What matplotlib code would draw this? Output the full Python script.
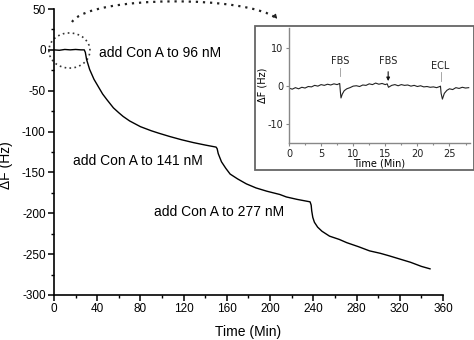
import matplotlib
matplotlib.use("Agg")
import matplotlib.pyplot as plt
from matplotlib.patches import Ellipse, Rectangle, PathPatch
from matplotlib.path import Path
from matplotlib.ticker import MultipleLocator

plt.rcParams["font.family"] = ["Liberation Sans", "DejaVu Sans"]
plt.rcParams["axes.unicode_minus"] = False

# frequency shift over the full run (min, Hz)
time_min = [0, 5, 10, 15, 20, 25, 28, 29, 30.2, 33, 37, 41, 45, 49, 55, 60,
            64, 70, 80, 90, 97, 107, 118, 129, 140, 150, 151, 152, 155, 159,
            163, 170, 178, 187, 197, 209, 215, 225, 237, 238, 238.5, 239.5,
            241, 244, 248, 255, 264, 271, 282, 292, 302, 310, 320, 330, 340,
            348]
delta_f = [0, -0.5, 0.5, 0, 0.5, 0, 0, -3, -12, -24, -36, -45, -54, -61, -71,
           -77, -81.5, -87, -94, -99, -102, -106, -110, -113.5, -116.5, -119,
           -121, -127, -137, -145, -152, -158, -164, -169, -173, -177, -180,
           -183, -186, -190, -197, -205, -211, -217, -222, -228, -232, -236,
           -241, -246, -249, -252, -256, -260, -265, -268]

# control run with serum / ECL additions (min, Hz)
ctrl_time = [0, 0.5, 1, 1.5, 2, 2.5, 3, 3.5, 4, 4.5, 5, 5.5, 6, 6.5, 7, 7.5,
             7.9, 8.0, 8.1, 8.3, 8.6, 9, 9.5, 10, 10.5, 11, 11.5, 12, 12.5, 13,
             13.5, 14, 14.5, 15, 15.3, 15.5, 15.7, 16, 16.5, 17, 17.5, 18,
             18.5, 19, 19.5, 20, 20.5, 21, 21.5, 22, 22.5, 23, 23.5, 23.6,
             23.7, 23.9, 24.2, 24.6, 25, 25.5, 26, 26.5, 27, 27.5, 28]
ctrl_df = [-0.6, -0.9, -0.5, -0.8, -0.4, -0.6, -0.2, -0.3, 0.1, -0.1, 0.3, 0.1,
           0.4, 0.2, 0.5, 0.3, 0.6, -1.5, -3.2, -2.2, -1.3, -0.8, -0.5, -0.1,
           0.0, -0.2, 0.2, 0.1, 0.5, 0.3, 0.7, 0.4, 0.6, 0.3, 0.5, -0.4, -0.2,
           0.1, 0.3, 0.0, 0.3, 0.1, 0.2, -0.1, 0.1, -0.2, 0.0, -0.3, -0.2,
           -0.4, -0.3, -0.5, -0.2, -0.1, -2.0, -3.5, -2.0, -1.2, -0.8, -1.0,
           -0.5, -0.7, -0.4, -0.6, -0.5]

additions = ["add Con A to 96 nM", "add Con A to 141 nM", "add Con A to 277 nM"]
addition_pos = [(41.5, -3.5), (17.5, -135.5), (92.5, -198)]

events = ["FBS", "FBS", "ECL"]
event_time = [7.9, 15.45, 23.6]

fig = plt.figure(figsize=(4.74, 3.4), dpi=100)
ax = fig.add_axes([0.1139, 0.1324, 0.8207, 0.8411])

ax.plot(time_min, delta_f, color="black", lw=1.0)
ax.set_xlim(0, 360)
ax.set_ylim(-300, 50)
ax.xaxis.set_major_locator(MultipleLocator(40))
ax.xaxis.set_minor_locator(MultipleLocator(20))
ax.yaxis.set_major_locator(MultipleLocator(50))
ax.yaxis.set_minor_locator(MultipleLocator(25))
for side in ("top", "right"):
    ax.spines[side].set_visible(False)
for side in ("left", "bottom"):
    ax.spines[side].set_linewidth(1.2)
ax.tick_params(which="major", direction="out", length=4, width=1.1,
               labelsize=8.5, pad=2)
ax.tick_params(which="minor", direction="out", length=2.5, width=1)
ax.set_xlabel("Time (Min)", fontsize=10)
ax.set_ylabel("ΔF (Hz)", fontsize=10)
ax.xaxis.set_label_coords(0.5, -0.105)
ax.xaxis.label.set_va("top")
ax.yaxis.set_label_coords(-0.105, 0.455)

for label, (tx, ty) in zip(additions, addition_pos):
    ax.text(tx, ty, label, fontsize=10, va="center", ha="left")

# dotted circle around the baseline region
ax.add_patch(Ellipse((14.3, -0.8), 38, 43, fill=False, ls=(0, (1, 2)),
                     lw=1.2, color="#333333", clip_on=False))

# dotted arc leading to the inset (figure pixel coordinates, y from top)
W, H = 474.0, 340.0
arc_px = [(72, 22), (90, -5), (250, -5), (277, 19)]
arc = Path([(x / W, 1 - y / H) for x, y in arc_px],
           [Path.MOVETO, Path.CURVE4, Path.CURVE4, Path.CURVE4])
fig.patches.append(PathPatch(arc, fill=False, ls=(0, (1, 2.2)), lw=1.6,
                             color="#222222", transform=fig.transFigure))
fig.patches[-1].set_figure(fig)
ax.annotate("", xy=(279, H - 21), xytext=(274, H - 15),
            xycoords="figure pixels", textcoords="figure pixels",
            arrowprops=dict(arrowstyle="-|>", color="#222222", lw=0.8,
                            mutation_scale=6))

# inset frame
frame = Rectangle((255 / W, 1 - 170 / H), 218.5 / W, 144 / H,
                  transform=fig.transFigure, facecolor="white",
                  edgecolor="#666666", lw=1.3, zorder=1)
fig.patches.append(frame)
frame.set_figure(fig)

inset = fig.add_axes([289 / W, 1 - 143 / H, 181 / W, 114.5 / H])
inset.set_zorder(2)
inset.patch.set_alpha(0)
inset.plot(ctrl_time, ctrl_df, color="#222222", lw=0.8)
inset.set_xlim(0, 28.2)
inset.set_ylim(-15, 15)
inset.xaxis.set_major_locator(MultipleLocator(5))
inset.xaxis.set_minor_locator(MultipleLocator(2.5))
inset.yaxis.set_major_locator(MultipleLocator(10))
for side in ("top", "right"):
    inset.spines[side].set_visible(False)
for side in ("left", "bottom"):
    inset.spines[side].set_color("#888888")
    inset.spines[side].set_linewidth(1.0)
inset.tick_params(which="both", colors="#888888", labelcolor="#222222",
                  labelsize=7, width=0.8, pad=1.5)
inset.tick_params(which="major", length=2.5)
inset.tick_params(which="minor", length=1.5)
for lab in inset.get_xticklabels() + inset.get_yticklabels():
    lab.set_family("DejaVu Sans")
inset.set_xlabel("Time (Min)", fontsize=7, family="DejaVu Sans", labelpad=0)
inset.set_ylabel("ΔF (Hz)", fontsize=7, family="DejaVu Sans")
inset.yaxis.set_label_coords(-0.12, 0.5)

for name, et in zip(events, event_time):
    top = 5.2 if name == "ECL" else 6.4
    inset.text(et, top, name, fontsize=7, family="DejaVu Sans",
               ha="center", va="center", color="#222222")
    if name == "FBS" and et > 10:
        inset.annotate("", xy=(et, 0.5), xytext=(et, 4.4),
                       arrowprops=dict(arrowstyle="-|>", color="#111111",
                                       lw=0.8, mutation_scale=5))
    else:
        inset.plot([et + 0.1, et + 0.1], [top - 1.7, top - 3.9],
                   color="#999999", lw=0.6)

fig.savefig("out.png", dpi=100)
